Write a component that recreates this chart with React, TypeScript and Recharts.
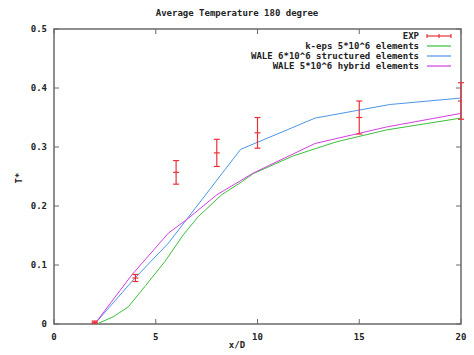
import React from 'react';
import {
  ComposedChart,
  Line,
  Scatter,
  ErrorBar,
  XAxis,
  YAxis,
  ReferenceArea,
} from 'recharts';

// experimental points with error bars
const expX = [2, 4, 6, 8, 10, 15, 20];
const expY = [0.003, 0.078, 0.257, 0.29, 0.324, 0.35, 0.378];
const expErr = [0.002, 0.006, 0.02, 0.023, 0.026, 0.028, 0.031];

const kepsX = [2.1, 2.9, 3.65, 4.5, 5.45, 6.35, 7.09, 8.24, 9.22, 9.8, 11.76, 13.9, 16.35, 20];
const kepsY = [0, 0.012, 0.029, 0.065, 0.106, 0.151, 0.182, 0.219, 0.241, 0.255, 0.285, 0.309, 0.329, 0.349];

const waleStructX = [2, 3.9, 5.62, 9.17, 12.83, 16.5, 20];
const waleStructY = [0, 0.075, 0.137, 0.296, 0.349, 0.372, 0.383];

const waleHybridX = [2, 3.82, 5.62, 6.52, 8.0, 9.22, 9.8, 12.83, 16.35, 20];
const waleHybridY = [0, 0.083, 0.154, 0.177, 0.219, 0.244, 0.256, 0.306, 0.334, 0.357];

const xTicks = [0, 5, 10, 15, 20];
const yTicks = [0, 0.1, 0.2, 0.3, 0.4, 0.5];

const seriesNames = [
  'EXP',
  'k-eps 5*10^6 elements',
  'WALE 6*10^6 structured elements',
  'WALE 5*10^6 hybrid elements',
];

const RED = '#e8323a';
const GREEN = '#3cbf3c';
const BLUE = '#4a96e6';
const MAGENTA = '#d23ee0';
const FRAME = '#6a6a6a';
const FONT = '"DejaVu Sans Mono", monospace';

const expData = expX.map((x, i) => ({ x, y: expY[i], err: expErr[i] }));
const kepsData = kepsX.map((x, i) => ({ x, y: kepsY[i] }));
const structData = waleStructX.map((x, i) => ({ x, y: waleStructY[i] }));
const hybridData = waleHybridX.map((x, i) => ({ x, y: waleHybridY[i] }));

const PLOT_LEFT = 54;
const PLOT_RIGHT = 461;
const PLOT_TOP = 29;
const PLOT_BOTTOM = 324;

const fmtY = (v: number) => (v === 0 ? '0' : v.toFixed(1));

const XTick = (props: any) => {
  const { x, payload } = props;
  return (
    <g>
      <line x1={x} x2={x} y1={PLOT_BOTTOM} y2={PLOT_BOTTOM - 5} stroke={FRAME} />
      <line x1={x} x2={x} y1={PLOT_TOP} y2={PLOT_TOP + 5} stroke={FRAME} />
      <text x={x} y={PLOT_BOTTOM + 16} textAnchor="middle" fontSize={9} fontWeight="bold" fontFamily={FONT} fill="#222">
        {payload.value}
      </text>
    </g>
  );
};

const YTick = (props: any) => {
  const { y, payload } = props;
  return (
    <g>
      <line x1={PLOT_LEFT} x2={PLOT_LEFT + 5} y1={y} y2={y} stroke={FRAME} />
      <line x1={PLOT_RIGHT} x2={PLOT_RIGHT - 5} y1={y} y2={y} stroke={FRAME} />
      <text x={47} y={y + 3} textAnchor="end" fontSize={9} fontWeight="bold" fontFamily={FONT} fill="#222">
        {fmtY(payload.value)}
      </text>
    </g>
  );
};

const PlusDot = (props: any) => {
  const { cx, cy } = props;
  return <line x1={cx - 3} x2={cx + 3} y1={cy} y2={cy} stroke={RED} strokeWidth={1.2} />;
};

const LegendBox = () => {
  const colors = [RED, GREEN, BLUE, MAGENTA];
  return (
    <svg width={474} height={80} style={{ position: 'absolute', left: 0, top: 0 }}>
      {seriesNames.map((name, i) => {
        const y = 36 + i * 10;
        return (
          <g key={name}>
            <text x={419} y={y + 3} textAnchor="end" fontSize={9} fontWeight="bold" fontFamily={FONT} fill="#222">
              {name}
            </text>
            <line x1={427} x2={451} y1={y} y2={y} stroke={colors[i]} strokeWidth={1.2} />
            {i === 0 && (
              <g stroke={RED} strokeWidth={1.2}>
                <line x1={427} x2={427} y1={y - 2} y2={y + 2} />
                <line x1={451} x2={451} y1={y - 2} y2={y + 2} />
                <line x1={439} x2={439} y1={y - 2} y2={y + 2} />
              </g>
            )}
          </g>
        );
      })}
    </svg>
  );
};

export default function App() {
  return (
    <div style={{ position: 'absolute', left: 0, top: 0, width: 474, height: 355, background: '#fff' }}>
      <ComposedChart
        width={474}
        height={355}
        margin={{ top: PLOT_TOP, right: 474 - PLOT_RIGHT, bottom: 0, left: 0 }}
      >
        <XAxis
          dataKey="x"
          type="number"
          domain={[0, 20]}
          ticks={xTicks}
          height={355 - PLOT_BOTTOM}
          tickLine={false}
          axisLine={false}
          tick={<XTick />}
          allowDataOverflow
        />
        <YAxis
          type="number"
          domain={[0, 0.5]}
          ticks={yTicks}
          width={PLOT_LEFT}
          tickLine={false}
          axisLine={false}
          tick={<YTick />}
          allowDataOverflow
        />
        <ReferenceArea x1={0} x2={20} y1={0} y2={0.5} fill="none" stroke={FRAME} strokeWidth={1.5} ifOverflow="visible" />
        <Line data={kepsData} dataKey="y" type="linear" stroke={GREEN} strokeWidth={1} dot={false} isAnimationActive={false} />
        <Line data={structData} dataKey="y" type="linear" stroke={BLUE} strokeWidth={1} dot={false} isAnimationActive={false} />
        <Line data={hybridData} dataKey="y" type="linear" stroke={MAGENTA} strokeWidth={1} dot={false} isAnimationActive={false} />
        <Scatter data={expData} dataKey="y" shape={<PlusDot />} isAnimationActive={false}>
          <ErrorBar dataKey="err" direction="y" width={3} stroke={RED} strokeWidth={1.2} />
        </Scatter>
      </ComposedChart>
      <LegendBox />
      <div
        style={{
          position: 'absolute', left: 0, top: 8, width: 474, textAlign: 'center',
          fontFamily: FONT, fontWeight: 'bold', fontSize: 9, color: '#222',
        }}
      >
        Average Temperature 180 degree
      </div>
      <div
        style={{
          position: 'absolute', left: 0, top: 340, width: 474, textAlign: 'center',
          fontFamily: FONT, fontWeight: 'bold', fontSize: 9, color: '#222',
        }}
      >
        x/D
      </div>
      <svg width={40} height={355} style={{ position: 'absolute', left: 0, top: 0 }}>
        <text
          x={22}
          y={178}
          transform="rotate(-90 22 178)"
          textAnchor="middle"
          fontSize={9}
          fontWeight="bold"
          fontFamily={FONT}
          fill="#222"
        >
          T*
        </text>
      </svg>
    </div>
  );
}
